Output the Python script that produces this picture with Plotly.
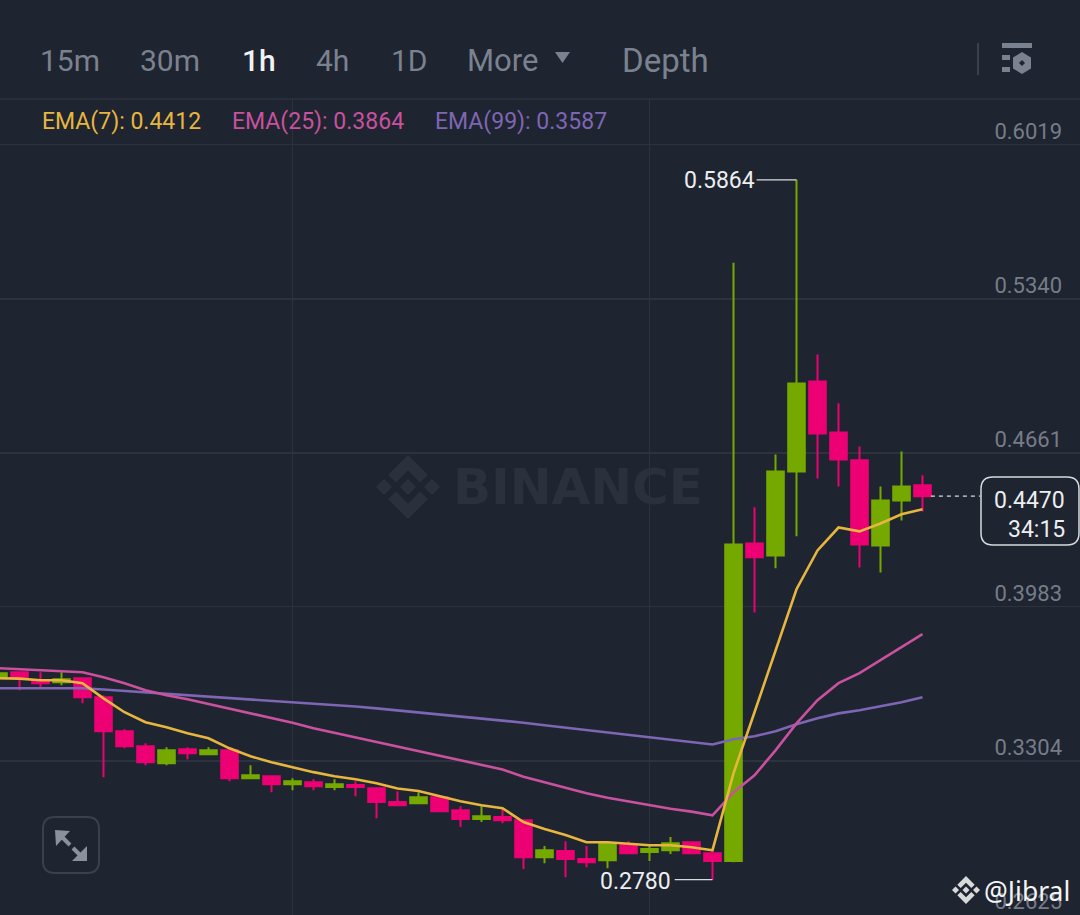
import plotly.graph_objects as go

W, H = 1080, 915
BG = "#1e2430"
GRID = "#2c323e"
GREY = "#7b828f"
LABEL = "#767d89"
GREEN = "#76a900"
PINK = "#ec0073"
FONT = "Roboto"

# --- data (prices) ---
opens = [.3668, .3694, .3659, .3650, .3668, .3584, .3434, .3368, .3293, .3355, .3333, .3350, .3227, .3236, .3201,
         .3210, .3188, .3197, .3183, .3122, .3117, .3143, .3086, .3047, .3056, .3042, .2879, .2906, .2871, .2866,
         .2932, .2902, .2910, .2945, .2897, .2862, .4262, .4209, .4579, .4975, .4751, .4628, .4253, .4451, .4518]
highs = [.3694, .3694, .3694, .3694, .3668, .3593, .3443, .3381, .3364, .3364, .3364, .3355, .3284, .3240, .3227,
         .3223, .3223, .3214, .3183, .3170, .3165, .3143, .3104, .3104, .3091, .3042, .2928, .2950, .2928, .2950,
         .2950, .2932, .2968, .2945, .2902, .5499, .4421, .4654, .5864, .5094, .4879, .4689, .4513, .4667, .4562]
lows = [.3663, .3615, .3624, .3637, .3558, .3232, .3359, .3284, .3284, .3311, .3328, .3214, .3227, .3165, .3174,
        .3174, .3174, .3148, .3051, .3104, .3117, .3078, .3012, .3034, .3029, .2827, .2853, .2791, .2835, .2831,
        .2893, .2862, .2893, .2897, .2780, .2857, .3958, .4152, .4293, .4548, .4513, .4156, .4134, .4363, .4403]
closes = [.3690, .3668, .3646, .3663, .3584, .3434, .3368, .3298, .3350, .3337, .3350, .3227, .3240, .3201, .3214,
          .3192, .3201, .3188, .3122, .3108, .3143, .3082, .3047, .3060, .3042, .2879, .2910, .2871, .2857, .2937,
          .2897, .2915, .2941, .2897, .2862, .4257, .4201, .4579, .4967, .4746, .4632, .4257, .4451, .4513, .4470]
ema7 = [.3668, .3666, .3659, .3659, .3646, .3579, .3518, .3474, .3452, .3425, .3403, .3359, .3324, .3298, .3276,
        .3254, .3236, .3223, .3205, .3182, .3171, .3148, .3126, .3108, .3095, .3034, .3003, .2977, .2945, .2945,
        .2937, .2932, .2932, .2923, .2910, .3249, .3518, .3791, .4060, .4231, .4332, .4315, .4350, .4390, .4412]
ema25 = [.3712, .3707, .3703, .3698, .3694, .3672, .3646, .3615, .3593, .3575, .3554, .3533, .3513, .3492, .3472,
         .3447, .3427, .3408, .3386, .3366, .3346, .3326, .3306, .3286, .3266, .3234, .3210, .3186, .3161, .3141,
         .3124, .3108, .3093, .3080, .3064, .3165, .3240, .3350, .3469, .3571, .3646, .3690, .3747, .3805, .3862]
ema99 = [.3624, .3624, .3624, .3624, .3624, .3618, .3612, .3606, .3600, .3593, .3587, .3581, .3575, .3568, .3562,
         .3556, .3550, .3543, .3535, .3526, .3517, .3509, .3500, .3491, .3483, .3472, .3461, .3450, .3440, .3429,
         .3418, .3408, .3397, .3386, .3376, .3399, .3412, .3434, .3465, .3491, .3513, .3527, .3544, .3562, .3584]
x_index = list(range(len(opens)))
price_ticks = [0.6019, 0.5340, 0.4661, 0.3983, 0.3304, 0.2625]
price_labels = ["0.6019", "0.5340", "0.4661", "0.3983", "0.3304", "0.2625"]
vgrid_index = [14, 31]
period_labels = ["15m", "30m", "1h", "4h", "1D", "More", "Depth"]
ema_labels = ["EMA(7): 0.4412", "EMA(25): 0.3864", "EMA(99): 0.3587"]
high_label, high_at = "0.5864", 38
low_label, low_at = "0.2780", 34
last_price = "0.4470"
countdown = "34:15"


def px(x):
    return x / W


def py(y):
    return 1 - y / H


def path(points, close=True):
    d = "M " + " L ".join(f"{px(a):.5f},{py(b):.5f}" for a, b in points)
    return d + (" Z" if close else "")


def rrect(x0, y0, x1, y1, r):
    p = lambda a, b: f"{px(a):.5f},{py(b):.5f}"
    return (f"M {p(x0+r,y0)} L {p(x1-r,y0)} Q {p(x1,y0)} {p(x1,y0+r)} L {p(x1,y1-r)} Q {p(x1,y1)} {p(x1-r,y1)} "
            f"L {p(x0+r,y1)} Q {p(x0,y1)} {p(x0,y1-r)} L {p(x0,y0+r)} Q {p(x0,y0)} {p(x0+r,y0)} Z")


shapes = []


def paper_path(d, fill=None, line=None, lw=0, layer="above"):
    shapes.append(dict(type="path", path=d, xref="paper", yref="paper", layer=layer,
                       fillcolor=fill or "rgba(0,0,0,0)",
                       line=dict(color=line or "rgba(0,0,0,0)", width=lw)))


def logo(cx, cy, r, color, layer="above"):
    unit = [
        [(0, -.25), (.25, 0), (0, .25), (-.25, 0)],
        [(-.75, -.25), (-.5, 0), (-.75, .25), (-1, 0)],
        [(.75, -.25), (1, 0), (.75, .25), (.5, 0)],
        [(0, -1), (.62, -.38), (.38, -.14), (0, -.52), (-.38, -.14), (-.62, -.38)],
        [(0, 1), (.62, .38), (.38, .14), (0, .52), (-.38, .14), (-.62, .38)],
    ]
    for poly in unit:
        paper_path(path([(cx + a * r, cy + b * r) for a, b in poly]), fill=color, layer=layer)


# header separators
paper_path(path([(0, 99), (W, 99)], False), line=GRID, lw=1.5, layer="below")
# "More" caret
paper_path(path([(555, 52), (570, 52), (562.5, 63)]), fill=GREY)
# settings icon
paper_path(path([(978, 43), (978, 75)], False), line="#3a414d", lw=2)
paper_path(path([(1002, 43), (1032, 43), (1032, 48), (1002, 48)]), fill=GREY)
paper_path(path([(1002, 55), (1010, 55), (1010, 60), (1002, 60)]), fill=GREY)
paper_path(path([(1002, 67), (1010, 67), (1010, 72), (1002, 72)]), fill=GREY)
paper_path(path([(1022, 52), (1031, 57.5), (1031, 68.5), (1022, 74), (1013, 68.5), (1013, 57.5)]), fill=GREY)
paper_path(path([(1022, 60), (1025, 63), (1022, 66), (1019, 63)]), fill=BG)
# expand button
paper_path(rrect(43, 817, 99, 873, 12), line="#3a404c", lw=2)
paper_path(path([(55, 830), (70, 831), (56, 846)]), fill="#8a909c")
paper_path(path([(87, 846), (87, 861), (72, 861)]), fill="#8a909c")
paper_path(path([(60, 835), (70, 845)], False), line="#8a909c", lw=4)
paper_path(path([(73, 848), (82, 857)], False), line="#8a909c", lw=4)
# watermarks
logo(408, 487, 32, "#2a303c", layer="below")
logo(966, 890, 14, "#d9d9d9")

# price box
paper_path(rrect(981, 477, 1079, 545, 12), fill=BG, line="#d8dadd", lw=1.5)

# leader lines, anchored on the axes
shapes.append(dict(type="line", xref="x", yref="y", x0=high_at - 1.9, x1=high_at, y0=highs[high_at], y1=highs[high_at],
                   line=dict(color="#d8dadd", width=1.2)))
shapes.append(dict(type="line", xref="x", yref="y", x0=low_at - 1.8, x1=low_at, y0=lows[low_at], y1=lows[low_at],
                   line=dict(color="#d8dadd", width=1.2)))
shapes.append(dict(type="line", xref="x", yref="y", x0=44.4, x1=46.75, y0=float(last_price), y1=float(last_price),
                   line=dict(color="#d8dadd", width=1.2, dash="4px,4px")))


def text(t, x, y, size, color, anchor="left", family=FONT, weight=None):
    return dict(text=t, x=px(x), y=py(y), xref="paper", yref="paper", xanchor=anchor, yanchor="middle",
                showarrow=False, font=dict(size=size, color=color, family=family, weight=weight),
                borderpad=0, borderwidth=0)


period_x = [40, 140, 242, 316, 391, 467, 622]
period_sizes = [30, 30, 30, 30, 30, 31, 33]
annotations = [text(t, x, 61, s, "#f0f2f5" if t == "1h" else GREY, weight=500 if t == "1h" else None)
               for t, x, s in zip(period_labels, period_x, period_sizes)]
ema_colors = ["#e7b63f", "#c9519f", "#7e66b4"]
annotations += [text(t, x, 122, 23, c) for t, x, c in zip(ema_labels, [42, 232, 435], ema_colors)]
annotations += [
    text("BINANCE", 578, 487, 50, "#2a303c", anchor="center", family="DejaVu Sans", weight=700),
    text(high_label, 755, 180, 23, "#eceef0", anchor="right"),
    text(low_label, 671, 881, 23, "#eceef0", anchor="right"),
    text(last_price, 1065, 500, 23, "#eceef0", anchor="right"),
    text(countdown, 1065, 529, 23, "#eceef0", anchor="right"),
    text("@Jibral", 984, 891, 26.5, "#f5f5f5", family="Noto Sans"),
]

fig = go.Figure()
fig.add_trace(go.Candlestick(
    x=x_index, open=opens, high=highs, low=lows, close=closes,
    increasing=dict(line=dict(color=GREEN, width=2), fillcolor=GREEN),
    decreasing=dict(line=dict(color=PINK, width=2), fillcolor=PINK),
    whiskerwidth=0, hoverinfo="skip", showlegend=False))
for vals, col in zip([ema99, ema25, ema7], [ema_colors[2], ema_colors[1], ema_colors[0]]):
    fig.add_trace(go.Scatter(x=x_index, y=vals, mode="lines", line=dict(color=col, width=2.6),
                             hoverinfo="skip", showlegend=False))

fig.update_layout(
    width=W, height=H, margin=dict(l=0, r=0, t=0, b=0), paper_bgcolor=BG, plot_bgcolor=BG,
    boxgap=0.21, boxgroupgap=0, shapes=shapes, annotations=annotations, showlegend=False,
    xaxis=dict(range=[0.0714, 51.5], domain=[0, 1], rangeslider=dict(visible=False), tickmode="array",
               tickvals=vgrid_index, showticklabels=False, ticks="", showgrid=True, gridcolor=GRID, gridwidth=1.5,
               zeroline=False, showline=False, fixedrange=True),
    yaxis=dict(range=[0.26245, 0.62202], domain=[0, 816 / 915], side="right", tickmode="array", tickvals=price_ticks,
               ticktext=price_labels, ticklabelposition="inside top", ticklabelstandoff=15, ticklabelshift=2, ticks="",
               tickfont=dict(family=FONT, size=22, color=LABEL), showgrid=True, gridcolor=GRID, gridwidth=1.5,
               zeroline=False, showline=False, fixedrange=True),
)

fig.write_html("out.html", config=dict(displayModeBar=False, staticPlot=True),
               post_script="document.body.style.margin='0';document.body.style.overflow='hidden';")
